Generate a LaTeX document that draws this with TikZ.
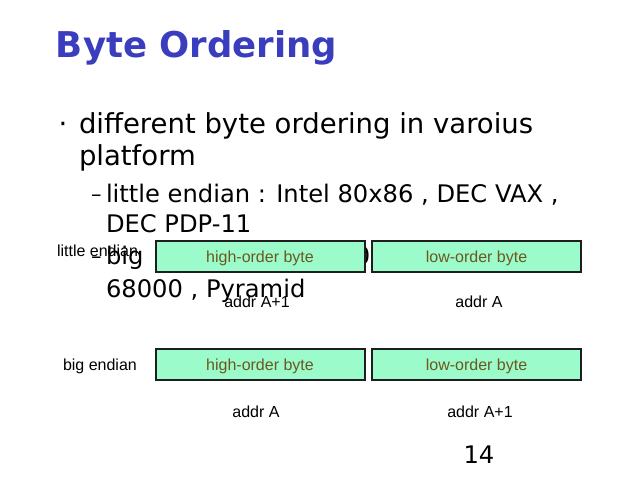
\documentclass[tikz,border=0pt]{standalone}
\usepackage{fontspec}
\setmainfont{DejaVu Sans}
\newfontfamily\arialf{Liberation Sans}
\definecolor{titleblue}{RGB}{58,62,190}
\definecolor{mint}{RGB}{156,251,203}
\definecolor{olive}{RGB}{108,88,30}
\definecolor{boxline}{RGB}{30,30,30}
\tikzset{
  every node/.style={inner sep=0pt, outer sep=0pt},
  titletext/.style={anchor=base west, text=titleblue, font=\fontsize{35.5}{40}\selectfont\bfseries},
  lvlone/.style={anchor=base west, font=\fontsize{27.5}{33}\selectfont},
  lvltwo/.style={anchor=base west, font=\fontsize{24.2}{29}\selectfont},
  smalllabel/.style={font=\arialf\fontsize{16}{19}\selectfont},
  bytebox/.style={draw=boxline, line width=2pt, fill=mint, text=olive,
    minimum width=209pt, minimum height=31pt, text height=11.5pt, text depth=0pt,
    font=\arialf\fontsize{16}{19}\selectfont},
}
\begin{document}
\begin{tikzpicture}[x=1pt, y=-1pt]
\useasboundingbox (0,0) rectangle (638,479);
\fill[white] (0,0) rectangle (638,479);
% title
\node[titletext] (title) at (56,57) {Byte Ordering};
% bullet text
\node[lvlone] (bul) at (58.5,133) {·};
\node[lvlone] (l1) at (79,133) {different byte ordering in varoius};
\node[lvlone] (l2) at (79,165) {platform};
\node[lvltwo, font=\fontsize{21}{25}\selectfont] (d1) at (91,201) {–};
\node[lvltwo] (s1) at (106,202) {little endian : Intel 80x86 , DEC VAX ,};
\node[lvltwo] (s2) at (106,232) {DEC PDP-11};
\node[lvltwo, font=\fontsize{21}{25}\selectfont] (d2) at (91,263) {–};
\node[lvltwo] (s3) at (106,264) {big\hspace{3pt} endian\hspace{3pt} :\hspace{3pt} IBM\hspace{3pt} 370 , Motorola};
\node[lvltwo] (s4) at (106,297) {68000 , Pyramid};
% little endian row
\node[smalllabel, anchor=base west] (lelab) at (57,256) {little endian};
\node[bytebox] (lehigh) at (260,256.5) {high-order byte};
\node[bytebox] (lelow) at (476.5,256.5) {low-order byte};
\node[smalllabel, anchor=base] (leaddr1) at (257,307) {addr A+1};
\node[smalllabel, anchor=base] (leaddr0) at (479,307) {addr A};
% big endian row
\node[smalllabel, anchor=base west] (belab) at (63,370) {big endian};
\node[bytebox] (behigh) at (260,364.5) {high-order byte};
\node[bytebox] (below) at (476.5,364.5) {low-order byte};
\node[smalllabel, anchor=base] (beaddr0) at (256,417) {addr A};
\node[smalllabel, anchor=base] (beaddr1) at (480,417) {addr A+1};
% page number
\node[lvltwo, anchor=base] (pnum) at (479,463) {14};
\end{tikzpicture}
\end{document}
